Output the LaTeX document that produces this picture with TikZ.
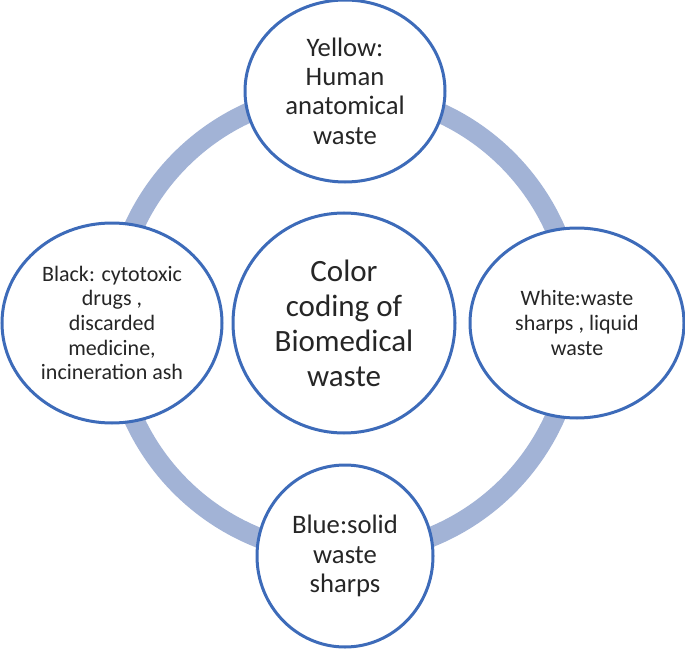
\documentclass[tikz,border=0pt]{standalone}
\usepackage{fontspec}
\setmainfont{Carlito}
\usetikzlibrary{shapes.geometric}
\definecolor{ringblue}{RGB}{162,179,214}
\definecolor{edgeblue}{RGB}{61,107,185}
\definecolor{inkgray}{RGB}{38,38,38}

\begin{document}
\begin{tikzpicture}[x=0.75pt,y=-0.75pt,
    bubble/.style={ellipse,draw=edgeblue,line width=2.25pt,fill=white,
      inner sep=0pt,align=center,text=inkgray},
    bigtext/.style={font=\fontsize{23.25}{26.25}\selectfont},
    midtext/.style={font=\fontsize{20}{22}\selectfont},
    smalltext/.style={font=\fontsize{16.5}{18.5}\selectfont}]
  \useasboundingbox (0,0) rectangle (685,649);
  % ring behind the bubbles
  \coordinate (hubc) at (344,323);
  \draw[ringblue,line width=15pt] (hubc) circle[radius=173.25pt];
  % centre
  \node[bubble,bigtext,minimum width=166.5pt,minimum height=165pt] (hub) at (hubc)
    {Color\\coding of\\Biomedical\\waste};
  % outer bubbles
  \node[bubble,midtext,minimum width=150pt,minimum height=136.5pt] (yellow) at (345,91)
    {Yellow:\\Human\\anatomical\\waste};
  \node[bubble,smalltext,minimum width=160.5pt,minimum height=142.5pt] (white) at (577,323)
    {White:waste\\sharps , liquid\\waste};
  \node[bubble,midtext,minimum width=132pt,minimum height=136.5pt] (blue) at (345,556)
    {Blue:solid\\waste\\sharps};
  \node[bubble,smalltext,minimum width=165pt,minimum height=150pt] (black) at (112,323)
    {Black: cytotoxic\\drugs ,\\discarded\\medicine,\\incineration ash};
\end{tikzpicture}
\end{document}
